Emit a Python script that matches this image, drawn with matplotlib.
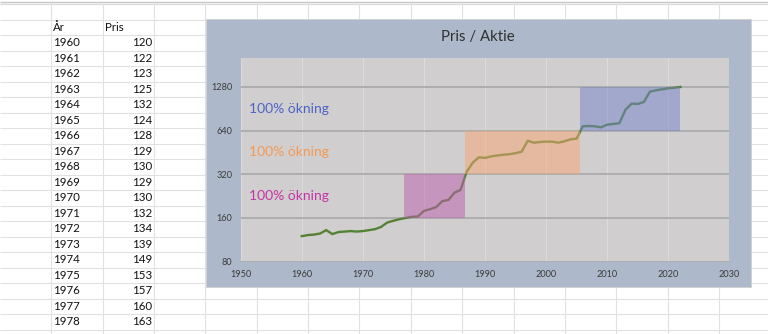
import matplotlib
matplotlib.use("Agg")
import matplotlib.pyplot as plt
from matplotlib.patches import Rectangle
from matplotlib.ticker import FixedLocator, NullLocator, FixedFormatter

# ---------------- data ----------------
years = [1960, 1961, 1962, 1963, 1964, 1965, 1966, 1967, 1968, 1969,
         1970, 1971, 1972, 1973, 1974, 1975, 1976, 1977, 1978, 1979,
         1980, 1981, 1982, 1983, 1984, 1985, 1986, 1987, 1988, 1989,
         1990, 1991, 1992, 1993, 1994, 1995, 1996, 1997, 1998, 1999,
         2000, 2001, 2002, 2003, 2004, 2005, 2006, 2007, 2008, 2009,
         2010, 2011, 2012, 2013, 2014, 2015, 2016, 2017, 2018, 2019,
         2020, 2021, 2022]
prices = [120, 122, 123, 125, 132, 124, 128, 129, 130, 129,
          130, 132, 134, 139, 149, 153, 157, 160, 163, 164,
          179, 184, 190, 209, 213, 239, 250, 333, 385, 419,
          415, 425, 431, 436, 440, 447, 458, 545, 528, 534,
          537, 537, 528, 540, 557, 563, 685, 688, 685, 674,
          703, 711, 719, 891, 981, 976, 1007, 1186, 1212, 1232,
          1251, 1263, 1278]
table_rows = 19
header = ["År", "Pris"]

y_ticks = [80, 160, 320, 640, 1280]
x_ticks = [1950, 1960, 1970, 1980, 1990, 2000, 2010, 2020, 2030]

# highlight spans: (x start, x end, y low, y high)
spans = [(1976.7, 1986.8, 160, 320),
         (1986.8, 2005.5, 320, 640),
         (2005.5, 2021.9, 640, 1280)]
span_colors = ["#BE5EB0", "#F8A672", "#7484CA"]
label_text = "100% ökning"
label_y = [227, 454, 902]
label_colors = ["#C535A5", "#F59A55", "#4E62C8"]

# ---------------- figure ----------------
W, H = 768, 334
fig = plt.figure(figsize=(W / 100, H / 100), dpi=100)
fig.patch.set_facecolor("white")

bg = fig.add_axes([0, 0, 1, 1])
bg.set_xlim(0, W)
bg.set_ylim(H, 0)
bg.axis("off")

grid_c = "#E1E1E1"
col_w = 51.35
row_h = 15.5
row0 = 4.0
for k in range(1, 16):
    bg.vlines(k * col_w, row0, H, color=grid_c, lw=0.8, zorder=1)
k = 0
while row0 + k * row_h <= H:
    bg.hlines(row0 + k * row_h, 0, W, color=grid_c, lw=0.8, zorder=1)
    k += 1
bg.hlines(1.5, 0, W, color="#C6C6C6", lw=1.0, zorder=1)
bg.hlines(3.5, 0, W, color="#DADADA", lw=0.8, zorder=1)

tfont = dict(family="Lato", fontsize=8.3, color="#111111")
hy = row0 + row_h * 1.5
bg.text(col_w + 2, hy, header[0], ha="left", va="center", **tfont)
bg.text(2 * col_w + 2, hy, header[1], ha="left", va="center", **tfont)
for i in range(table_rows):
    yy = hy + (i + 1) * row_h
    bg.text(col_w + 2, yy, str(years[i]), ha="left", va="center", **tfont)
    bg.text(3 * col_w - 2, yy, str(prices[i]), ha="right", va="center", **tfont)

# chart area
cx0, cy0, cx1, cy1 = 205.5, 19.0, 751.0, 286.7
bg.add_patch(Rectangle((cx0, cy0), cx1 - cx0, cy1 - cy0, facecolor="#ADB9CA",
                       edgecolor="#D0D0D0", lw=0.6, zorder=5))
bg.text(478, 36.5, "Pris / Aktie", ha="center", va="center", family="Lato",
        fontsize=10.8, color="#303030", zorder=6)

# plot area
px0, py0, px1, py1 = 240.7, 57.7, 729.3, 261.7
ax = fig.add_axes([px0 / W, 1 - py1 / H, (px1 - px0) / W, (py1 - py0) / H])
ax.set_facecolor("#D0CECE")
ax.set_yscale("log", base=2)
ax.set_xlim(1950, 2030)
ax.set_ylim(80, 2033)
ax.yaxis.set_major_locator(FixedLocator(y_ticks))
ax.yaxis.set_major_formatter(FixedFormatter([str(v) for v in y_ticks]))
ax.yaxis.set_minor_locator(NullLocator())
ax.set_xticks(x_ticks)
ax.set_xticklabels([str(v) for v in x_ticks])
for s in ax.spines.values():
    s.set_visible(False)
ax.tick_params(axis="both", length=0, labelsize=6.6, labelcolor="#3A3A3A")
ax.tick_params(axis="y", pad=6.0)
ax.tick_params(axis="x", pad=5.8)
for lab in ax.get_xticklabels() + ax.get_yticklabels():
    lab.set_family("Lato")

for v in x_ticks:
    ax.axvline(v, color="#DCDADA", lw=0.8, zorder=0.5)
for v in y_ticks:
    ax.axhline(v, color="#A8A8A8", lw=1.2, zorder=0.6)

ax.plot(years, prices, color="#548235", lw=1.7, zorder=2,
        solid_joinstyle="round")

for (x0, x1, y0, y1), c in zip(spans, span_colors):
    ax.add_patch(Rectangle((x0, y0), x1 - x0, y1 - y0, facecolor=c,
                           edgecolor="none", alpha=0.5, zorder=3))

for yv, c in zip(label_y, label_colors):
    ax.text(1951.4, yv, label_text, ha="left", va="center", family="Lato",
            fontsize=10, color=c, zorder=4)

fig.savefig("out.png", dpi=100, facecolor="white")
